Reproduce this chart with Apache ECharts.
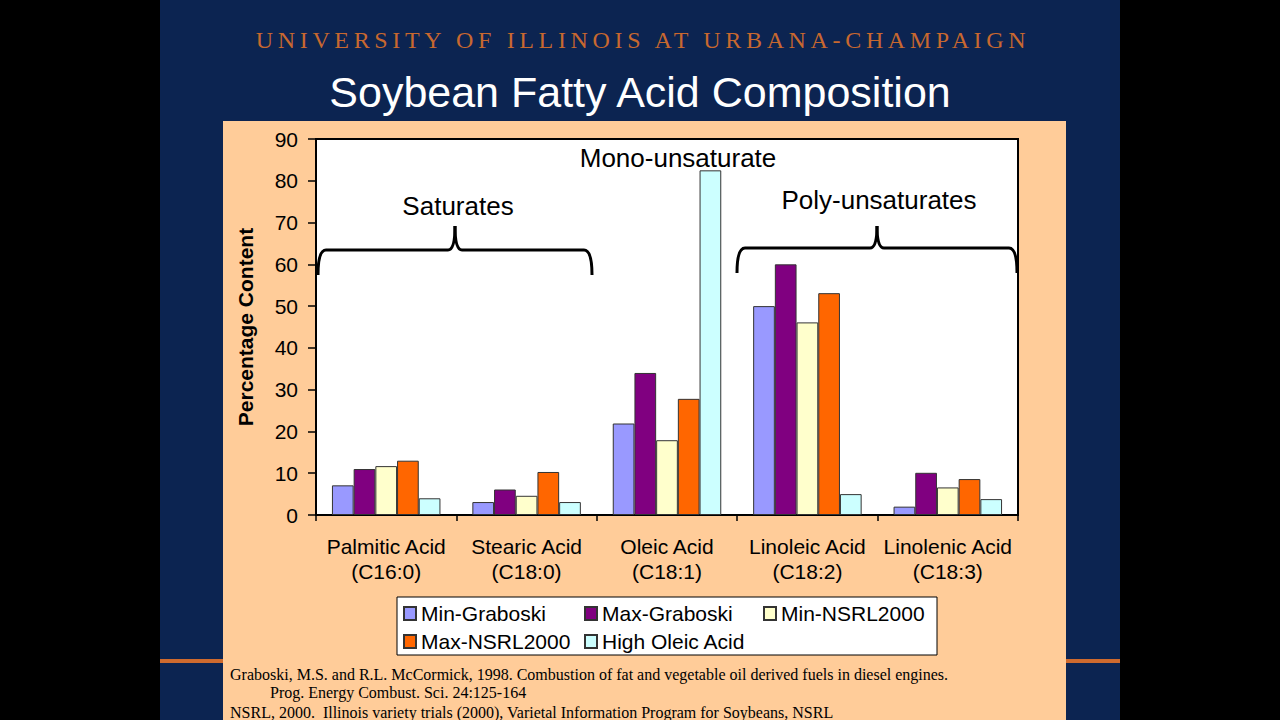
<!DOCTYPE html>
<html>
<head>
<meta charset="utf-8">
<style>
html,body{margin:0;padding:0;background:#000;}
#chart{width:1280px;height:720px;}
</style>
<script src="https://cdn.jsdelivr.net/npm/echarts@6/dist/echarts.min.js"></script>
</head>
<body>
<div id="chart"></div>
<script>
var categories = ['Palmitic Acid\n(C16:0)', 'Stearic Acid\n(C18:0)', 'Oleic Acid\n(C18:1)', 'Linoleic Acid\n(C18:2)', 'Linolenic Acid\n(C18:3)'];
var seriesNames = ['Min-Graboski', 'Max-Graboski', 'Min-NSRL2000', 'Max-NSRL2000', 'High Oleic Acid'];
var minGraboski = [7.1, 3.1, 21.9, 50.0, 2.0];
var maxGraboski = [11.0, 6.1, 34.0, 60.0, 10.1];
var minNSRL2000 = [11.7, 4.6, 17.9, 46.1, 6.6];
var maxNSRL2000 = [13.0, 10.3, 27.8, 53.1, 8.6];
var highOleicAcid = [4.0, 3.1, 82.5, 5.0, 3.8];
var yTicks = [0, 10, 20, 30, 40, 50, 60, 70, 80, 90];

var seriesData = [minGraboski, maxGraboski, minNSRL2000, maxNSRL2000, highOleicAcid];
var colors = ['#9999ff', '#800080', '#ffffcc', '#ff6600', '#ccffff'];

var chart = echarts.init(document.getElementById('chart'), null, {renderer: 'svg'});

var font = 'Arial, "Liberation Sans", sans-serif';
var serif = '"Times New Roman", "Liberation Serif", serif';

var legendPos = [[403, 603], [584, 603], [763, 603], [403, 631], [584, 631]];

// brace built from lines and quadratic curves: (left x, right x, tip x, bar y, end y, tip y)
function brace(x0, x1, xt, yb, ye, yt) {
  var st = {stroke: '#000', lineWidth: 3, fill: 'none'};
  var r = 8;
  return [
    {type: 'bezierCurve', z: 100, shape: {x1: x0, y1: ye, cpx1: x0, cpy1: yb, x2: x0 + r, y2: yb}, style: st},
    {type: 'line', z: 100, shape: {x1: x0 + r, y1: yb, x2: xt - 7, y2: yb}, style: st},
    {type: 'bezierCurve', z: 100, shape: {x1: xt - 7, y1: yb, cpx1: xt, cpy1: yb, x2: xt, y2: yt}, style: st},
    {type: 'bezierCurve', z: 100, shape: {x1: xt, y1: yt, cpx1: xt, cpy1: yb, x2: xt + 7, y2: yb}, style: st},
    {type: 'line', z: 100, shape: {x1: xt + 7, y1: yb, x2: x1 - r, y2: yb}, style: st},
    {type: 'bezierCurve', z: 100, shape: {x1: x1 - r, y1: yb, cpx1: x1, cpy1: yb, x2: x1, y2: ye}, style: st}
  ];
}

var graphics = [
  {type: 'rect', z: -100, shape: {x: 160, y: 0, width: 960, height: 720}, style: {fill: '#0c2451'}},
  {type: 'rect', z: -99, shape: {x: 160, y: 659, width: 960, height: 4}, style: {fill: '#cf6a2e'}},
  {type: 'rect', z: -98, shape: {x: 223, y: 121, width: 843, height: 599}, style: {fill: '#ffcc99'}},
  {type: 'text', id: 'header', z: 10, x: 643, y: 40,
    style: {text: 'UNIVERSITY OF ILLINOIS AT URBANA-CHAMPAIGN', fill: '#c8682f',
      font: '24px ' + serif, textAlign: 'center', textVerticalAlign: 'middle'}},
  {type: 'text', z: 10, x: 640, y: 92,
    style: {text: 'Soybean Fatty Acid Composition', fill: '#ffffff',
      font: '43px ' + font, textAlign: 'center', textVerticalAlign: 'middle'}},
  {type: 'text', z: 100, x: 458, y: 206,
    style: {text: 'Saturates', fill: '#000', font: '26px ' + font, textAlign: 'center', textVerticalAlign: 'middle'}},
  {type: 'text', z: 100, x: 678, y: 158,
    style: {text: 'Mono-unsaturate', fill: '#000', font: '26px ' + font, textAlign: 'center', textVerticalAlign: 'middle'}},
  {type: 'text', z: 100, x: 879, y: 200,
    style: {text: 'Poly-unsaturates', fill: '#000', font: '26px ' + font, textAlign: 'center', textVerticalAlign: 'middle'}},
  {type: 'rect', z: 40, shape: {x: 397, y: 597, width: 540, height: 58},
    style: {fill: '#ffffff', stroke: '#000', lineWidth: 1}},
  {type: 'text', z: 10, x: 230, y: 674,
    style: {text: 'Graboski, M.S. and R.L. McCormick, 1998. Combustion of fat and vegetable oil derived fuels in diesel engines.',
      fill: '#000', font: '16px ' + serif, textVerticalAlign: 'middle'}},
  {type: 'text', z: 10, x: 270, y: 692,
    style: {text: 'Prog. Energy Combust. Sci. 24:125-164',
      fill: '#000', font: '16px ' + serif, textVerticalAlign: 'middle'}},
  {type: 'text', z: 10, x: 230, y: 712,
    style: {text: 'NSRL, 2000.  Illinois variety trials (2000), Varietal Information Program for Soybeans, NSRL',
      fill: '#000', font: '16px ' + serif, textVerticalAlign: 'middle'}}
].concat(brace(318, 592, 455, 250, 275, 226)).concat(brace(737, 1017, 877, 248, 273, 226));

var option = {
  backgroundColor: '#000',
  animation: false,
  textStyle: {fontFamily: font},
  grid: {
    left: 316, right: 262, top: 139, bottom: 205,
    show: true, backgroundColor: '#ffffff', borderColor: '#000', borderWidth: 2
  },
  legend: seriesNames.map(function (n, i) {
    return {
      data: [n], left: legendPos[i][0], top: legendPos[i][1], padding: 0,
      itemWidth: 12, itemHeight: 13, itemGap: 0, icon: 'rect',
      textStyle: {fontSize: 21, color: '#000', fontFamily: font},
      selectedMode: false, z: 50
    };
  }),
  xAxis: {
    type: 'category',
    data: categories,
    axisLine: {lineStyle: {color: '#000', width: 2}},
    axisTick: {show: true, length: 6, lineStyle: {color: '#000', width: 1.5}},
    axisLabel: {interval: 0, fontSize: 21, color: '#000', lineHeight: 25, margin: 19, fontFamily: font, hideOverlap: false}
  },
  yAxis: {
    type: 'value', min: 0, max: 90, interval: 10,
    name: 'Percentage Content', nameLocation: 'middle', nameGap: 60,
    nameTextStyle: {fontSize: 21, fontWeight: 'bold', color: '#000', fontFamily: font},
    axisLine: {show: true, lineStyle: {color: '#000', width: 2}},
    axisTick: {show: true, length: 8, lineStyle: {color: '#000', width: 1.5}},
    axisLabel: {fontSize: 21, color: '#000', margin: 18, fontFamily: font,
      formatter: function (v) { return yTicks.indexOf(v) >= 0 ? String(v) : ''; }},
    splitLine: {show: false}
  },
  series: seriesNames.map(function (n, i) {
    return {
      name: n, type: 'bar', data: seriesData[i],
      barWidth: 21.7, barGap: '0%',
      itemStyle: {color: colors[i], borderColor: '#333', borderWidth: 1},
      emphasis: {disabled: true}
    };
  }),
  graphic: graphics
};
chart.setOption(option);

function spaceHeader() {
  var texts = document.querySelectorAll('#chart text');
  for (var i = 0; i < texts.length; i++) {
    if (texts[i].textContent === 'UNIVERSITY OF ILLINOIS AT URBANA-CHAMPAIGN') {
      texts[i].setAttribute('letter-spacing', '4.65');
      texts[i].style.letterSpacing = '4.65px';
    }
  }
}
spaceHeader();
chart.on('finished', spaceHeader);
</script>
</body>
</html>
